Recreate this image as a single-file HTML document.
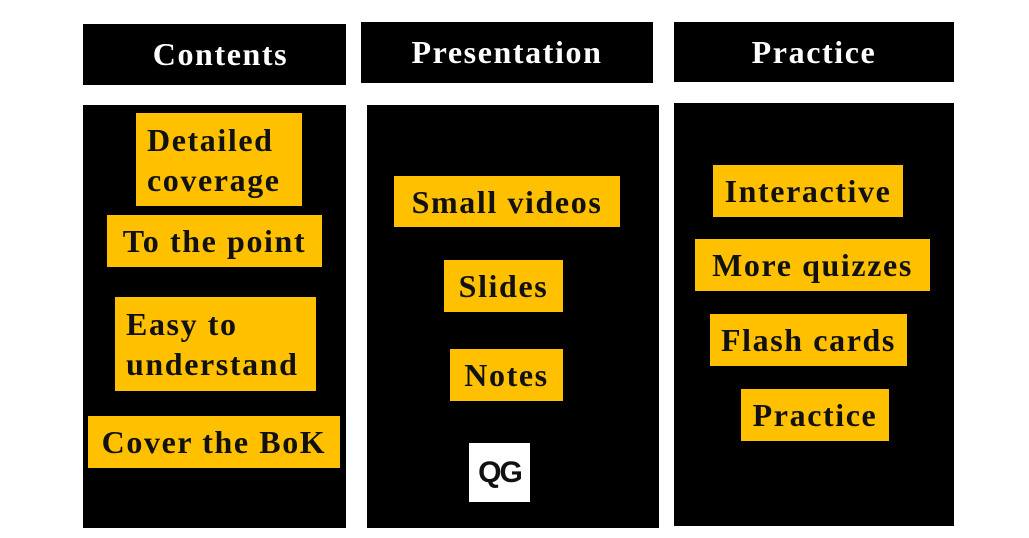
<!DOCTYPE html>
<html><head><style>
body{margin:0;width:1029px;height:538px;background:#fff;position:relative;overflow:hidden;font-family:"Liberation Serif",serif;font-weight:bold}
div{position:absolute;box-sizing:border-box}
.b{background:#000}
.h{color:#fff;font-size:32px;display:flex;align-items:center;justify-content:center;letter-spacing:1.6px}
.y{background:#FFC000;color:#111;font-size:32px;display:flex;align-items:center;justify-content:center;letter-spacing:1.6px;line-height:40px;white-space:nowrap}
.l{justify-content:flex-start;padding-left:11px}
</style></head><body>
<div class="b h" style="left:83px;top:24px;width:263px;height:61px;padding-left:12px">Contents</div>
<div class="b h" style="left:361px;top:22px;width:292px;height:61px">Presentation</div>
<div class="b h" style="left:674px;top:22px;width:280px;height:60px">Practice</div>
<div class="b" style="left:83px;top:105px;width:263px;height:423px"></div>
<div class="b" style="left:367px;top:105px;width:292px;height:423px"></div>
<div class="b" style="left:674px;top:103px;width:280px;height:423px"></div>

<div class="y l" style="left:136px;top:113px;width:166px;height:93px">Detailed<br>coverage</div>
<div class="y" style="left:107px;top:215px;width:215px;height:52px">To the point</div>
<div class="y l" style="left:115px;top:297px;width:201px;height:94px">Easy to<br>understand</div>
<div class="y" style="left:88px;top:416px;width:252px;height:52px">Cover the BoK</div>

<div class="y" style="left:394px;top:176px;width:226px;height:51px">Small videos</div>
<div class="y" style="left:444px;top:260px;width:119px;height:52px">Slides</div>
<div class="y" style="left:450px;top:349px;width:113px;height:52px">Notes</div>
<div style="left:469px;top:443px;width:61px;height:59px;background:#fff;display:flex;align-items:center;justify-content:center;font-family:'Liberation Sans',sans-serif;font-size:30px;color:#111;letter-spacing:-2px">QG</div>

<div class="y" style="left:713px;top:165px;width:190px;height:52px">Interactive</div>
<div class="y" style="left:695px;top:239px;width:235px;height:52px">More quizzes</div>
<div class="y" style="left:710px;top:314px;width:197px;height:52px">Flash cards</div>
<div class="y" style="left:741px;top:389px;width:148px;height:52px">Practice</div>
</body></html>
